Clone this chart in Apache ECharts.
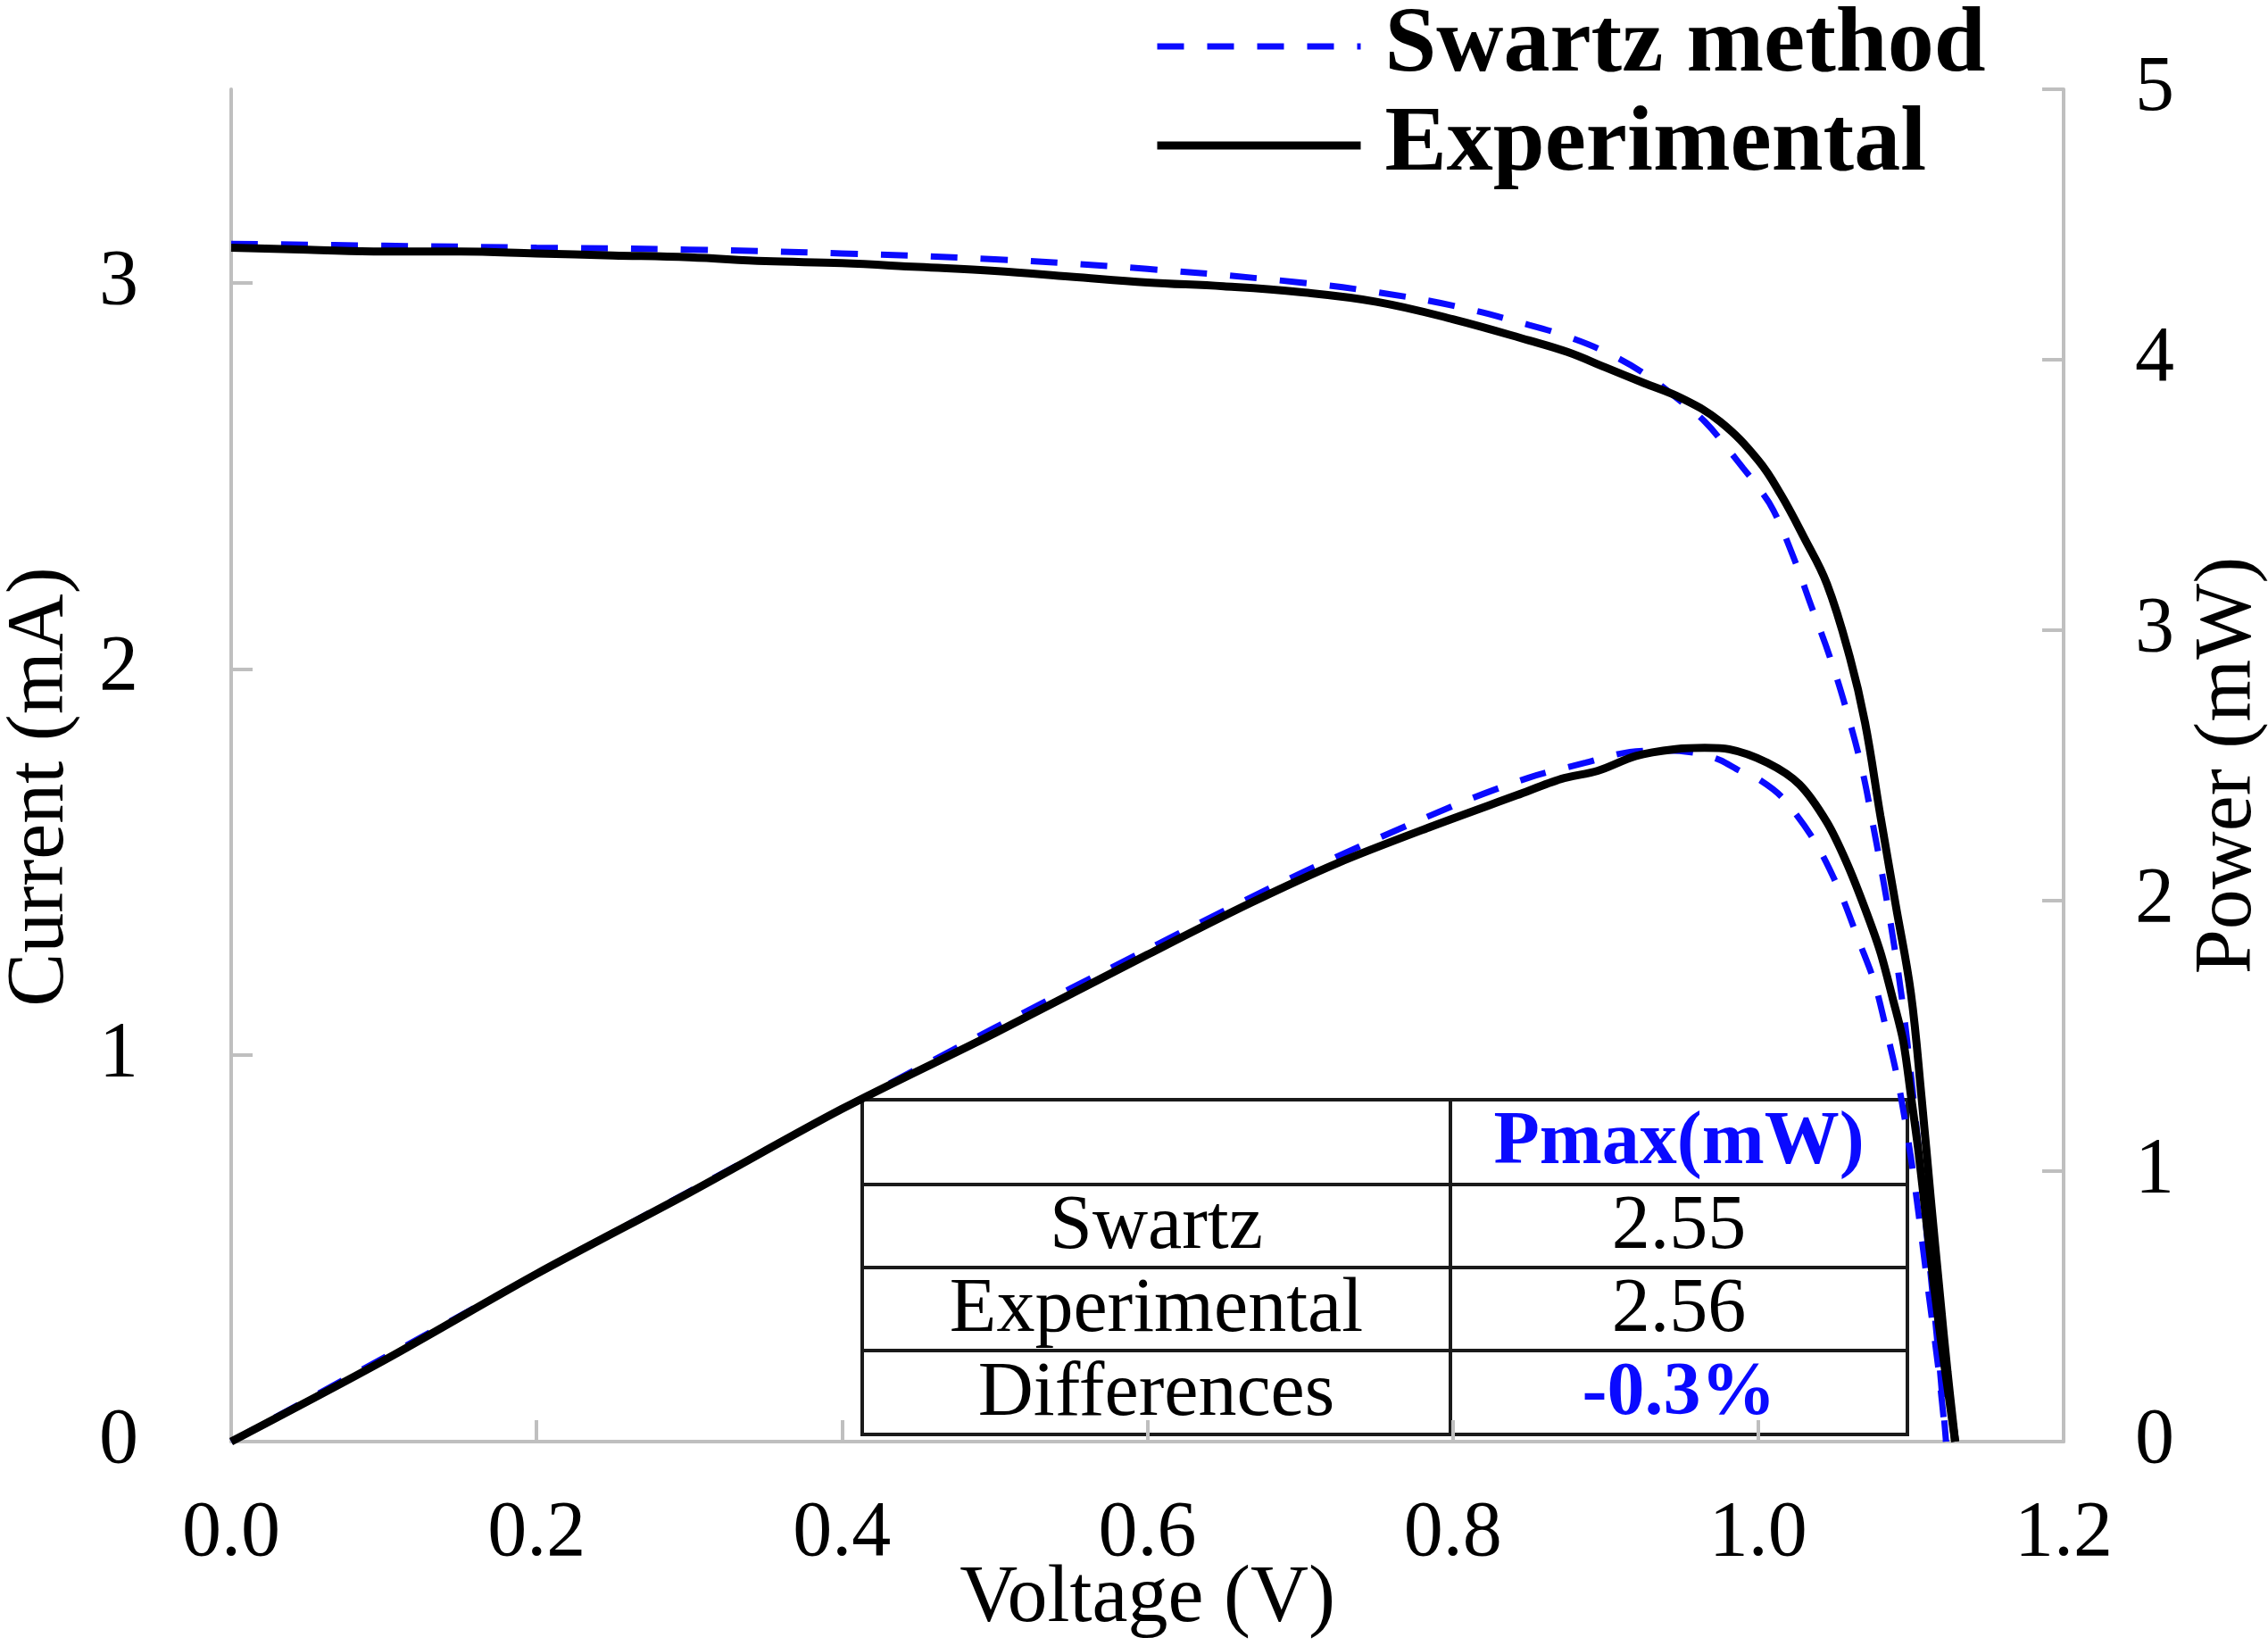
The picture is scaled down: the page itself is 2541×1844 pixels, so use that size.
<!DOCTYPE html>
<html>
<head>
<meta charset="utf-8">
<script src="https://cdn.jsdelivr.net/npm/echarts@6/dist/echarts.min.js"></script>
<style>
html,body{margin:0;padding:0;background:#fff;}
#chart{width:2541px;height:1844px;}
</style>
</head>
<body>
<div id="chart"></div>
<script>
// ---------- data ----------
const seriesNames = ['Swartz method', 'Experimental'];

// Experimental I-V (V, mA)
const expIV_V = [0, 0.05, 0.1, 0.15, 0.2, 0.25, 0.3, 0.35, 0.4, 0.45, 0.5, 0.55, 0.6, 0.65, 0.7, 0.75, 0.8, 0.85, 0.875, 0.9, 0.925, 0.95, 0.975, 1.0, 1.015, 1.03, 1.045, 1.06, 1.07, 1.08, 1.09, 1.1, 1.107, 1.113, 1.119, 1.124, 1.129];
const expIV_I = [3.09, 3.085, 3.08, 3.08, 3.075, 3.07, 3.065, 3.055, 3.05, 3.04, 3.03, 3.015, 3.0, 2.99, 2.975, 2.95, 2.905, 2.85, 2.82, 2.78, 2.74, 2.70, 2.64, 2.54, 2.45, 2.34, 2.22, 2.03, 1.86, 1.62, 1.39, 1.16, 0.89, 0.63, 0.38, 0.18, 0];

// Experimental P-V (V, mW)
const expPV_V = [0, 0.1, 0.2, 0.3, 0.4, 0.5, 0.6, 0.667, 0.725, 0.784, 0.842, 0.871, 0.895, 0.92, 0.946, 0.965, 0.981, 1.006, 1.027, 1.045, 1.058, 1.07, 1.08, 1.088, 1.095, 1.1, 1.105, 1.11, 1.115, 1.12, 1.125, 1.129];
const expPV_P = [0, 0.30, 0.62, 0.92, 1.23, 1.51, 1.80, 1.99, 2.14, 2.27, 2.39, 2.45, 2.48, 2.535, 2.56, 2.565, 2.56, 2.51, 2.43, 2.29, 2.14, 1.97, 1.81, 1.64, 1.48, 1.28, 1.07, 0.82, 0.58, 0.36, 0.16, 0];

// Swartz method I-V (V, mA)
const swIV_V = [0, 0.1, 0.2, 0.3, 0.4, 0.5, 0.6, 0.7, 0.75, 0.8, 0.85, 0.875, 0.9, 0.925, 0.95, 0.965, 0.98, 0.99, 1.0, 1.01, 1.023, 1.035, 1.047, 1.058, 1.068, 1.075, 1.082, 1.088, 1.094, 1.1, 1.106, 1.112, 1.118, 1.123];
const swIV_I = [3.10, 3.095, 3.09, 3.085, 3.075, 3.06, 3.035, 3.0, 2.975, 2.94, 2.89, 2.86, 2.82, 2.765, 2.69, 2.64, 2.57, 2.52, 2.47, 2.41, 2.29, 2.16, 2.03, 1.89, 1.74, 1.60, 1.45, 1.31, 1.15, 0.95, 0.72, 0.47, 0.23, 0];

// Swartz method P-V (V, mW)
const swPV_V = [0, 0.1, 0.2, 0.3, 0.4, 0.5, 0.6, 0.7, 0.8, 0.85, 0.887, 0.916, 0.94, 0.96, 0.975, 0.988, 1.0, 1.016, 1.037, 1.053, 1.066, 1.076, 1.084, 1.092, 1.1, 1.106, 1.112, 1.118, 1.123];
const swPV_P = [0, 0.31, 0.62, 0.925, 1.23, 1.53, 1.82, 2.10, 2.35, 2.455, 2.51, 2.55, 2.555, 2.545, 2.52, 2.48, 2.45, 2.38, 2.22, 2.04, 1.85, 1.70, 1.52, 1.32, 1.05, 0.80, 0.53, 0.27, 0];

// inset table
const tableHeader = ['', 'Pmax(mW)'];
const tableRows = [
  ['Swartz', '2.55'],
  ['Experimental', '2.56'],
  ['Differences', '-0.3%']
];

// tick values
const currentTicks = [0, 1, 2, 3];

// ---------- chart ----------
const zip = (xs, ys) => xs.map((x, i) => [x, ys[i]]);
const FONT = '"Liberation Serif", "Times New Roman", serif';
const AXIS_GREY = '#bfbfbf';
const BLUE = '#0a0aff';

const chart = echarts.init(document.getElementById('chart'), null, {renderer: 'canvas'});

const gridL = 259, gridR = 229, gridT = 100, gridB = 229;

// table geometry (pixel layout of the inset annotation)
const tX = [966, 1625, 2137];
const tY = [1232, 1327, 1420, 1513, 1607];
const tableChildren = [];
tableChildren.push({type: 'rect', shape: {x: tX[0], y: tY[0], width: tX[2] - tX[0], height: tY[4] - tY[0]}, style: {fill: '#fff', stroke: null}});
tY.forEach(y => tableChildren.push({type: 'line', shape: {x1: tX[0] - 2, y1: y, x2: tX[2] + 2, y2: y}, style: {stroke: '#1a1a1a', lineWidth: 4}}));
tX.forEach(x => tableChildren.push({type: 'line', shape: {x1: x, y1: tY[0], x2: x, y2: tY[4]}, style: {stroke: '#1a1a1a', lineWidth: 4}}));
const allRows = [tableHeader].concat(tableRows);
allRows.forEach((row, r) => {
  row.forEach((txt, c) => {
    if (!txt) return;
    const blue = (r === 0 && c === 1) || (r === 3 && c === 1);
    tableChildren.push({
      type: 'text',
      style: {
        text: txt,
        x: (tX[c] + tX[c + 1]) / 2,
        y: (tY[r] + tY[r + 1]) / 2 + 2,
        align: 'center',
        verticalAlign: 'middle',
        fontFamily: FONT,
        fontSize: blue ? 84 : 86,
        fontWeight: blue ? 'bold' : 'normal',
        fill: blue ? BLUE : '#000'
      }
    });
  });
});

const axisCommon = {
  axisLine: {show: true, lineStyle: {color: AXIS_GREY, width: 4}},
  axisTick: {show: true, inside: true, length: 24, lineStyle: {color: AXIS_GREY, width: 4}},
  splitLine: {show: false},
  nameLocation: 'middle',
  nameMoveOverlap: false,
  nameTextStyle: {fontFamily: FONT, fontSize: 90, color: '#000'}
};

const option = {
  backgroundColor: '#fff',
  animation: false,
  grid: {left: gridL, right: gridR, top: gridT, bottom: gridB, containLabel: false, outerBoundsMode: 'none'},
  legend: {
    data: seriesNames,
    orient: 'vertical',
    left: 1292,
    top: 0,
    padding: 0,
    itemWidth: 228,
    itemHeight: 20,
    itemGap: 7,
    itemStyle: {opacity: 0},
    lineStyle: {width: 'inherit'},
    textStyle: {fontFamily: FONT, fontSize: 104, fontWeight: 'bold', color: '#000', lineHeight: 84, padding: [0, 0, 0, 22]}
  },
  xAxis: Object.assign({}, axisCommon, {
    type: 'value', min: 0, max: 1.2, interval: 0.2,
    name: 'Voltage (V)', nameGap: 132,
    axisLabel: {margin: 60, fontFamily: FONT, fontSize: 88, color: '#000', formatter: v => v.toFixed(1)}
  }),
  yAxis: [
    Object.assign({}, axisCommon, {
      type: 'value', min: 0, max: 3.5, interval: 1, position: 'left',
      name: 'Current (mA)', nameGap: 168,
      nameTextStyle: {fontFamily: FONT, fontSize: 90, color: '#000', padding: [0, 48, 0, 0]},
      axisTick: {show: true, inside: true, length: 24, lineStyle: {color: AXIS_GREY, width: 4}, customValues: currentTicks},
      axisLabel: {margin: 104, fontFamily: FONT, fontSize: 88, color: '#000', customValues: currentTicks}
    }),
    Object.assign({}, axisCommon, {
      type: 'value', min: 0, max: 5, interval: 1, position: 'right',
      name: 'Power (mW)', nameGap: 140,
      axisLabel: {margin: 80, fontFamily: FONT, fontSize: 88, color: '#000'}
    })
  ],
  series: [
    {name: 'Swartz method', type: 'line', yAxisIndex: 0, data: zip(swIV_V, swIV_I), showSymbol: false, symbol: 'none', smooth: 0.4,
     lineStyle: {color: BLUE, width: 7, type: [30, 26]}, itemStyle: {color: BLUE}, z: 2},
    {name: 'Swartz method', type: 'line', yAxisIndex: 1, data: zip(swPV_V, swPV_P), showSymbol: false, symbol: 'none', smooth: 0.3,
     lineStyle: {color: BLUE, width: 7, type: [30, 26]}, itemStyle: {color: BLUE}, z: 2},
    {name: 'Experimental', type: 'line', yAxisIndex: 0, data: zip(expIV_V, expIV_I), showSymbol: false, symbol: 'none', smooth: 0.4,
     lineStyle: {color: '#000', width: 9}, itemStyle: {color: '#000'}, z: 3},
    {name: 'Experimental', type: 'line', yAxisIndex: 1, data: zip(expPV_V, expPV_P), showSymbol: false, symbol: 'none', smooth: 0.3,
     lineStyle: {color: '#000', width: 9}, itemStyle: {color: '#000'}, z: 3}
  ],
  graphic: [{type: 'group', z: 100, children: tableChildren}]
};

chart.setOption(option);
</script>
</body>
</html>
